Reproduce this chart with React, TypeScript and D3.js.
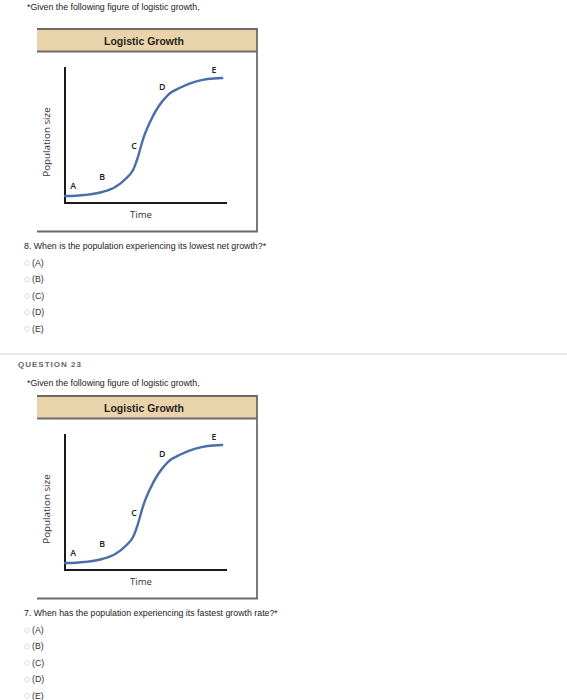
import React from 'react'
import * as d3 from 'd3'

// logistic curve (time 0-100, population 0-100)
const timeValues = [0, 12, 23, 31, 38, 42, 45, 48, 52.5, 57.5, 63.5, 72, 80, 88, 97]
const populationValues = [5.1, 5.9, 8.1, 11.8, 18.4, 24.3, 33.8, 46.3, 59.6, 70.6, 79.4, 85.3, 89, 91.2, 91.9]

// phase labels and where they sit
const phaseLabels = ['A', 'B', 'C', 'D', 'E']
const labelTime = [5, 23, 42.6, 60, 92]
const labelPop = [12.5, 19.1, 41.9, 85.3, 97.8]

const options = ['(A)', '(B)', '(C)', '(D)', '(E)']
const questions = [
	'8. When is the population experiencing its lowest net growth?*',
	'7. When has the population experiencing its fastest growth rate?*'
]
const intro = '*Given the following figure of logistic growth,'

const width = 567
const height = 700
const uiFont = '"Liberation Sans", Arial, sans-serif'
const figFont = '"Open Sans", "Liberation Sans", sans-serif'

const Figure = ({ top }: { top: number }) => {
	const boxLeft = 37
	const boxRight = 257
	const boxTop = top
	const headerBottom = top + 22.5
	const boxBottom = top + 202.5

	const x = d3.scaleLinear().domain([0, 100]).range([65, 227])
	const y = d3.scaleLinear().domain([0, 100]).range([top + 174, top + 38])

	const pts: [number, number][] = timeValues.map((t, i) => [x(t), y(populationValues[i])])
	const line = d3.line().curve(d3.curveMonotoneX)

	return (
		<g>
			<rect x={boxLeft} y={boxTop} width={boxRight - boxLeft} height={boxBottom - boxTop} fill="#fff" />
			<rect x={boxLeft} y={boxTop} width={boxRight - boxLeft} height={headerBottom - boxTop} fill="#e8d3ab" />
			<line x1={boxLeft} x2={boxRight} y1={boxTop} y2={boxTop} stroke="#6e6a66" strokeWidth={1.8} />
			<line x1={boxLeft} x2={boxRight} y1={headerBottom} y2={headerBottom} stroke="#6e6a66" strokeWidth={1.8} />
			<line x1={boxLeft} x2={boxRight + 0.9} y1={boxBottom} y2={boxBottom} stroke="#6e6a66" strokeWidth={1.8} />
			<line x1={boxRight} x2={boxRight} y1={boxTop - 0.9} y2={boxBottom} stroke="#6e6a66" strokeWidth={1.8} />
			<text x={144} y={top + 15.5} textAnchor="middle" fontFamily={uiFont} fontWeight="bold" fontSize={10.5} fill="#2a2520">
				Logistic Growth
			</text>

			{/* axes */}
			<line x1={x(0)} x2={x(0)} y1={y(100)} y2={y(0) + 1} stroke="#1a1a1a" strokeWidth={2} />
			<line x1={x(0) - 1} x2={x(100)} y1={y(0)} y2={y(0)} stroke="#1a1a1a" strokeWidth={2} />

			<path d={line(pts) || ''} fill="none" stroke="#4a6ea8" strokeWidth={2.4} strokeLinecap="round" />

			{phaseLabels.map((l, i) => (
				<text
					key={l}
					x={x(labelTime[i])}
					y={y(labelPop[i]) + 3.2}
					textAnchor="middle"
					fontFamily={figFont}
					fontWeight={600}
					fontSize={8.8}
					fill="#222"
				>
					{l}
				</text>
			))}

			<text x={141} y={top + 189} textAnchor="middle" fontFamily={figFont} fontSize={9.5} fill="#333">
				Time
			</text>
			<text
				transform={`translate(50, ${top + 113}) rotate(-90)`}
				textAnchor="middle"
				fontFamily={figFont}
				fontSize={9.8}
				fill="#333"
			>
				Population size
			</text>
		</g>
	)
}

const Question = ({ top, text }: { top: number; text: string }) => (
	<g fontFamily={uiFont}>
		<text x={24} y={top} fontSize={8.8} fill="#222">
			{text}
		</text>
		{options.map((o, i) => (
			<g key={o}>
				<circle cx={27} cy={top + 14.2 + i * 16.4} r={2.3} fill="#fff" stroke="#d2d2d2" strokeWidth={0.8} />
				<text x={32} y={top + 17 + i * 16.4} fontSize={8.8} fill="#333">
					{o}
				</text>
			</g>
		))}
	</g>
)

const App = () => {
	return (
		<svg width={width} height={height} style={{ position: 'absolute', left: 0, top: 0 }}>
			<rect width={width} height={height} fill="#fff" />

			<text x={27} y={9.5} fontFamily={uiFont} fontSize={8.8} fill="#222">
				{intro}
			</text>
			<Figure top={29} />
			<Question top={249} text={questions[0]} />

			<line x1={0} x2={width} y1={354} y2={354} stroke="#e2e2e2" strokeWidth={1.5} />
			<text x={18} y={366.5} fontFamily={uiFont} fontWeight="bold" fontSize={8} letterSpacing={1} fill="#666">
				QUESTION 23
			</text>
			<text x={27} y={385.5} fontFamily={uiFont} fontSize={8.8} fill="#222">
				{intro}
			</text>
			<Figure top={396} />
			<Question top={616} text={questions[1]} />
		</svg>
	)
}

export default App
